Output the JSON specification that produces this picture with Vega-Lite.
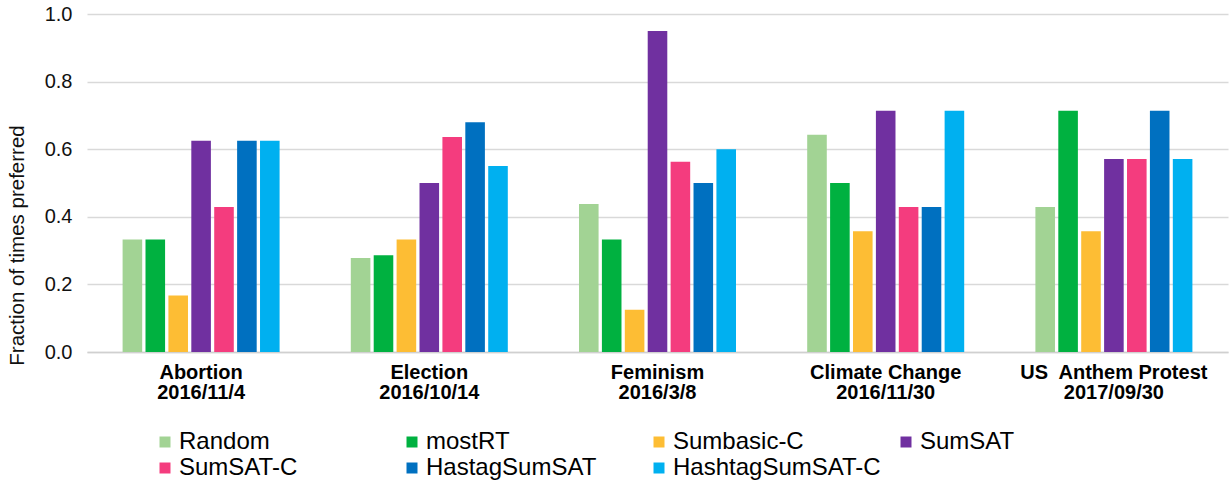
{
  "$schema": "https://vega.github.io/schema/vega-lite/v6.json",
  "width": 1141,
  "height": 338,
  "autosize": {"type": "none"},
  "padding": {"left": 87, "top": 14, "right": 4, "bottom": 136},
  "background": "white",
  "config": {
    "font": "Liberation Sans",
    "view": {"stroke": null},
    "axis": {"labelFont": "Liberation Sans", "titleFont": "Liberation Sans"},
    "legend": {"labelFont": "Liberation Sans"}
  },
  "data": {
    "values": [
      {"topic": "Abortion|2016/11/4", "method": "Random", "value": 0.333},
      {"topic": "Abortion|2016/11/4", "method": "mostRT", "value": 0.333},
      {"topic": "Abortion|2016/11/4", "method": "Sumbasic-C", "value": 0.167},
      {"topic": "Abortion|2016/11/4", "method": "SumSAT", "value": 0.625},
      {"topic": "Abortion|2016/11/4", "method": "SumSAT-C", "value": 0.429},
      {"topic": "Abortion|2016/11/4", "method": "HastagSumSAT", "value": 0.625},
      {"topic": "Abortion|2016/11/4", "method": "HashtagSumSAT-C", "value": 0.625},
      {"topic": "Election|2016/10/14", "method": "Random", "value": 0.278},
      {"topic": "Election|2016/10/14", "method": "mostRT", "value": 0.286},
      {"topic": "Election|2016/10/14", "method": "Sumbasic-C", "value": 0.333},
      {"topic": "Election|2016/10/14", "method": "SumSAT", "value": 0.5},
      {"topic": "Election|2016/10/14", "method": "SumSAT-C", "value": 0.636},
      {"topic": "Election|2016/10/14", "method": "HastagSumSAT", "value": 0.68},
      {"topic": "Election|2016/10/14", "method": "HashtagSumSAT-C", "value": 0.55},
      {"topic": "Feminism|2016/3/8", "method": "Random", "value": 0.438},
      {"topic": "Feminism|2016/3/8", "method": "mostRT", "value": 0.333},
      {"topic": "Feminism|2016/3/8", "method": "Sumbasic-C", "value": 0.125},
      {"topic": "Feminism|2016/3/8", "method": "SumSAT", "value": 0.95},
      {"topic": "Feminism|2016/3/8", "method": "SumSAT-C", "value": 0.563},
      {"topic": "Feminism|2016/3/8", "method": "HastagSumSAT", "value": 0.5},
      {"topic": "Feminism|2016/3/8", "method": "HashtagSumSAT-C", "value": 0.6},
      {"topic": "Climate Change|2016/11/30", "method": "Random", "value": 0.643},
      {"topic": "Climate Change|2016/11/30", "method": "mostRT", "value": 0.5},
      {"topic": "Climate Change|2016/11/30", "method": "Sumbasic-C", "value": 0.357},
      {"topic": "Climate Change|2016/11/30", "method": "SumSAT", "value": 0.714},
      {"topic": "Climate Change|2016/11/30", "method": "SumSAT-C", "value": 0.429},
      {"topic": "Climate Change|2016/11/30", "method": "HastagSumSAT", "value": 0.429},
      {"topic": "Climate Change|2016/11/30", "method": "HashtagSumSAT-C", "value": 0.714},
      {"topic": "US\u00a0 Anthem Protest|2017/09/30", "method": "Random", "value": 0.429},
      {"topic": "US\u00a0 Anthem Protest|2017/09/30", "method": "mostRT", "value": 0.714},
      {"topic": "US\u00a0 Anthem Protest|2017/09/30", "method": "Sumbasic-C", "value": 0.357},
      {"topic": "US\u00a0 Anthem Protest|2017/09/30", "method": "SumSAT", "value": 0.571},
      {"topic": "US\u00a0 Anthem Protest|2017/09/30", "method": "SumSAT-C", "value": 0.571},
      {"topic": "US\u00a0 Anthem Protest|2017/09/30", "method": "HastagSumSAT", "value": 0.714},
      {"topic": "US\u00a0 Anthem Protest|2017/09/30", "method": "HashtagSumSAT-C", "value": 0.571}
    ]
  },
  "mark": {"type": "bar"},
  "encoding": {
    "x": {
      "field": "topic",
      "type": "nominal",
      "sort": null,
      "title": null,
      "scale": {"paddingInner": 0.312, "paddingOuter": 0.156},
      "axis": {
        "labelAngle": 0,
        "labelExpr": "split(datum.label, '|')",
        "labelFontSize": 20,
        "labelFontWeight": "bold",
        "labelColor": "#000",
        "labelLineHeight": 20,
        "labelPadding": 10,
        "labelLimit": 300,
        "ticks": false,
        "domainColor": "#d0d0d0",
        "domainWidth": 1.5
      }
    },
    "xOffset": {
      "field": "method",
      "type": "nominal",
      "sort": null,
      "scale": {"paddingInner": 0.145, "paddingOuter": 0}
    },
    "y": {
      "field": "value",
      "type": "quantitative",
      "title": "Fraction of times preferred",
      "scale": {"domain": [0, 1]},
      "axis": {
        "values": [0, 0.2, 0.4, 0.6, 0.8, 1.0],
        "format": ".1f",
        "labelFontSize": 20,
        "labelColor": "#111",
        "labelPadding": 15,
        "titleFontSize": 20.5,
        "titleFontWeight": "normal",
        "titleColor": "#111",
        "titleAngle": 270,
        "titleAlign": "center",
        "titleBaseline": "middle",
        "titleX": -70,
        "titleY": 231,
        "domain": false,
        "ticks": false,
        "gridColor": "#d9d9d9",
        "gridWidth": 1.5
      }
    },
    "color": {
      "field": "method",
      "type": "nominal",
      "sort": null,
      "scale": {
        "domain": ["Random", "mostRT", "Sumbasic-C", "SumSAT", "SumSAT-C", "HastagSumSAT", "HashtagSumSAT-C"],
        "range": ["#a2d394", "#00b140", "#fdbd34", "#7030a0", "#f43c7e", "#0070c0", "#00b0f0"]
      },
      "legend": {
        "title": null,
        "orient": "none",
        "legendX": 66,
        "legendY": 416,
        "direction": "horizontal",
        "columns": 4,
        "gridAlign": "all",
        "columnPadding": 13,
        "rowPadding": 2,
        "symbolType": "square",
        "symbolSize": 121,
        "symbolStrokeWidth": 0,
        "labelFontSize": 24,
        "labelColor": "#000",
        "labelOffset": 2,
        "labelLimit": 300
      }
    }
  }
}
